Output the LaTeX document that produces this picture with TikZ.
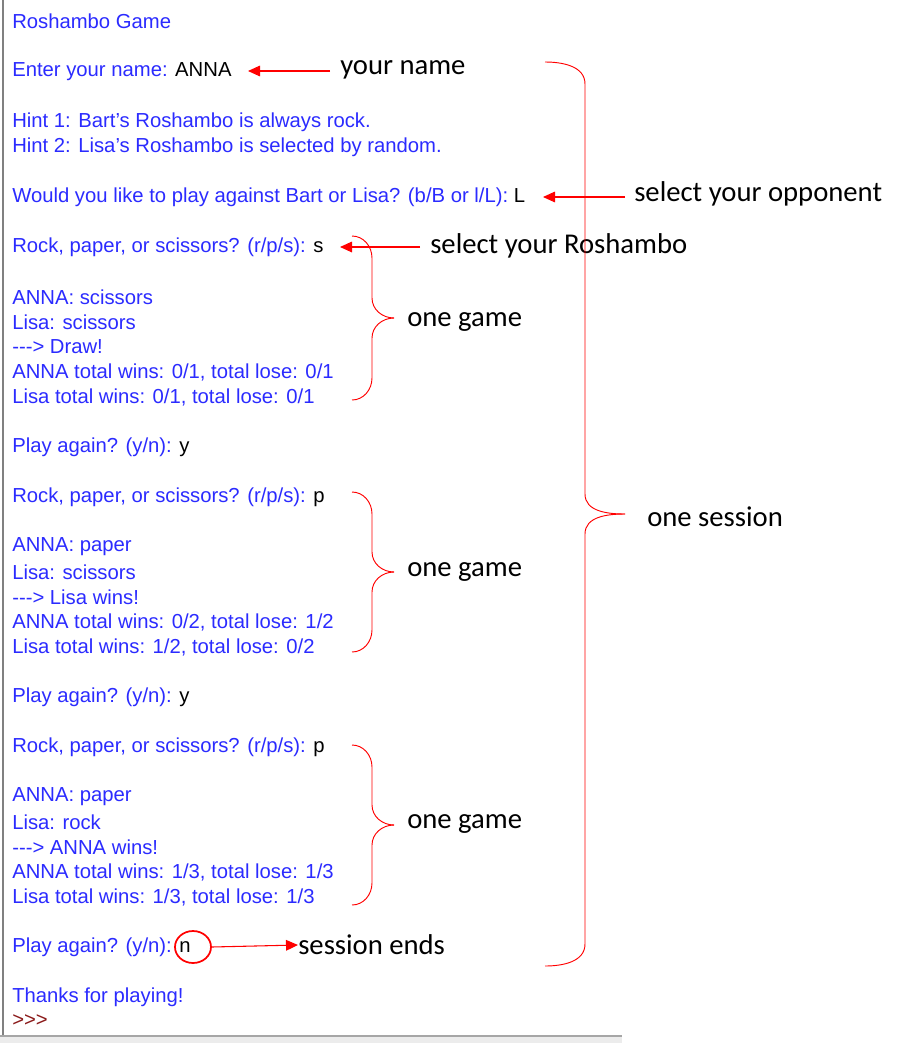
\documentclass[tikz,border=0pt]{standalone}
\usepackage{fontspec}
\setmainfont{Liberation Sans}
\newfontfamily\annfont{Carlito}
\usetikzlibrary{arrows.meta,shapes.geometric}
\definecolor{con}{HTML}{2B2BFF}
\definecolor{prm}{HTML}{8B1A1A}
\tikzset{
 cl/.style={anchor=west,inner sep=0,text=con,font=\fontsize{15.2}{17}\selectfont},
 ann/.style={anchor=west,inner sep=0,font=\annfont\fontsize{21.5}{24}\selectfont},
 arr/.style={red,line width=0.8pt,-{Triangle[length=9pt,width=8pt]}},
 brc/.style={red,line width=0.7pt},
}
\newcommand{\mybrace}[5]{% x1 x2 ytop ybot tipx
 \pgfmathsetmacro{\ym}{(#3+#4)/2}
 \draw[brc] (#1,#3) to[out=0,in=90] (#2,#3+22) -- (#2,\ym-20) to[out=-90,in=180] (#5,\ym);
 \draw[brc] (#1,#4) to[out=0,in=-90] (#2,#4-22) -- (#2,\ym+20) to[out=90,in=180] (#5,\ym);
}
\newcommand{\arrtxt}{-{}-{}->}
\begin{document}
\begin{tikzpicture}[x=0.75pt,y=-0.75pt]
\useasboundingbox (0,0) rectangle (905,1043);
\fill[white] (0,0) rectangle (905,1043);
\draw[gray,line width=1.2pt] (3,0) -- (3,1036);
\fill[gray!15] (0,1036) rectangle (622,1043);
\draw[gray!70,line width=1pt] (0,1036) -- (622,1036);
\node[cl] (t1) at (12,21) {Roshambo Game};
\node[cl] (t2) at (12,72) {Enter your name: \textcolor{black}{ANNA}};
\node[cl] (t3) at (12,122) {Hint 1: Bart's Roshambo is always rock.};
\node[cl] (t4) at (12,147) {Hint 2: Lisa's Roshambo is selected by random.};
\node[cl] (t5) at (12,197) {Would you like to play against Bart or Lisa? (b/B or l/L): \textcolor{black}{L}};
\node[cl] (g1a) at (12,247) {Rock, paper, or scissors? (r/p/s): \textcolor{black}{s}};
\node[cl] at (12,297) {ANNA: scissors};
\node[cl] at (12,322) {Lisa: scissors};
\node[cl] at (12,347) {\arrtxt{} Draw!};
\node[cl] at (12,372) {ANNA total wins: 0/1, total lose: 0/1};
\node[cl] at (12,397) {Lisa total wins: 0/1, total lose: 0/1};
\node[cl] at (12,447) {Play again? (y/n): \textcolor{black}{y}};
\node[cl] at (12,497) {Rock, paper, or scissors? (r/p/s): \textcolor{black}{p}};
\node[cl] at (12,547) {ANNA: paper};
\node[cl] at (12,572) {Lisa: scissors};
\node[cl] at (12,597) {\arrtxt{} Lisa wins!};
\node[cl] at (12,622) {ANNA total wins: 0/2, total lose: 1/2};
\node[cl] at (12,647) {Lisa total wins: 1/2, total lose: 0/2};
\node[cl] at (12,697) {Play again? (y/n): \textcolor{black}{y}};
\node[cl] at (12,747) {Rock, paper, or scissors? (r/p/s): \textcolor{black}{p}};
\node[cl] at (12,797) {ANNA: paper};
\node[cl] at (12,822) {Lisa: rock};
\node[cl] at (12,847) {\arrtxt{} ANNA wins!};
\node[cl] at (12,872) {ANNA total wins: 1/3, total lose: 1/3};
\node[cl] at (12,897) {Lisa total wins: 1/3, total lose: 1/3};
\node[cl] (pl) at (12,947) {Play again? (y/n): \textcolor{black}{n}};
\node[cl] at (12,997) {Thanks for playing!};
\node[cl,text=prm] at (12,1021) {>{}>{}>};
% annotations
\node[ann] (a1) at (340,70) {your name};
\coordinate (p1) at (248,71);
\draw[arr] (330,71) -- (p1);
\node[ann] (a2) at (634,194) {select your opponent};
\coordinate (p2) at (543,197);
\draw[arr] (625,197) -- (p2);
\node[ann] (a3) at (430,246) {select your Roshambo};
\coordinate (p3) at (340,247);
\draw[arr] (420,247) -- (p3);
\node[red,draw,ellipse,line width=1.3pt,minimum width=27pt,minimum height=24pt,inner sep=0] (c) at (193,947) {};
\node[ann] (a4) at (298,945) {session ends};
\draw[arr] (c.east) -- (a4.west);
\mybrace{352}{372}{236}{400}{394}
\mybrace{352}{372}{492}{652}{394}
\mybrace{352}{372}{745}{905}{394}
\node[ann] at (407,322) {one game};
\node[ann] at (407,572) {one game};
\node[ann] at (407,824) {one game};
\mybrace{545}{585}{62}{966}{625}
\node[ann] at (647,517) {one session};
\end{tikzpicture}
\end{document}
